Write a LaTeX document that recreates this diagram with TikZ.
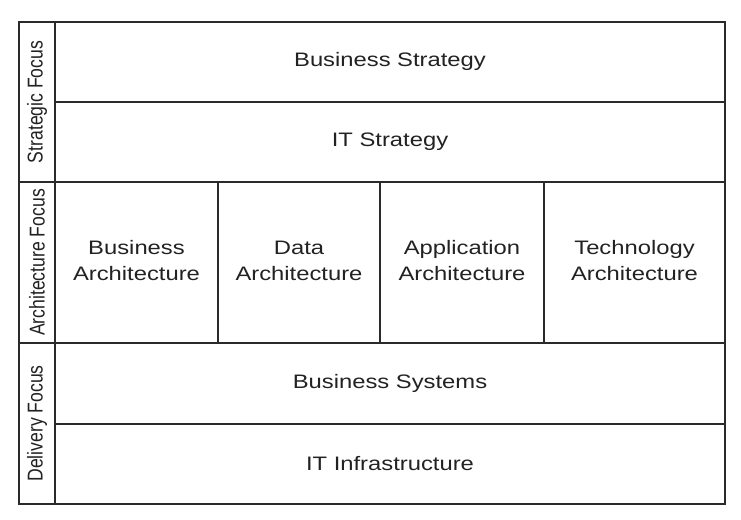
\documentclass[tikz,border=0pt]{standalone}
\usepackage{fontspec}
\setmainfont{Liberation Sans}
\usepackage{graphicx}
\newcommand{\hstr}[1]{\scalebox{1.22}[1]{#1}}
\newcommand{\vstr}[1]{\scalebox{1.22}[1]{\rotatebox{90}{#1}}}
\definecolor{linec}{HTML}{2A2A2A}
\definecolor{textc}{HTML}{222222}
\begin{document}
\begin{tikzpicture}[x=1pt,y=-1pt,
  cellline/.style={draw=linec,line width=1.4pt},
  maintext/.style={font=\fontsize{19.5}{26}\selectfont,text=textc,inner sep=0pt},
  sidetext/.style={font=\fontsize{17.6}{20}\selectfont,text=textc,inner sep=0pt}]
\useasboundingbox (0,0) rectangle (741,519);
\fill[white] (0,0) rectangle (741,519);
% grid
\draw[cellline] (19,22) rectangle (725,504);
\draw[cellline] (55,22) -- (55,504);
\draw[cellline] (55,102) -- (725,102);
\draw[cellline] (19,182) -- (725,182);
\draw[cellline] (19,343) -- (725,343);
\draw[cellline] (55,424) -- (725,424);
\draw[cellline] (218,182) -- (218,343);
\draw[cellline] (380,182) -- (380,343);
\draw[cellline] (544,182) -- (544,343);
% side labels
\node[sidetext] (sf) at (37,102) {\vstr{Strategic Focus}};
\node[sidetext] (af) at (37,262.5) {\vstr{Architecture Focus}};
\node[sidetext] (df) at (37,423.5) {\vstr{Delivery Focus}};
% rows
\node[maintext] (bs) at (390,61) {\hstr{Business Strategy}};
\node[maintext] (its) at (390,142) {\hstr{IT Strategy}};
\node[maintext] (ba) at (136.5,262) {\hstr{\begin{tabular}{@{}c@{}}Business\\Architecture\end{tabular}}};
\node[maintext] (da) at (299,262) {\hstr{\begin{tabular}{@{}c@{}}Data\\Architecture\end{tabular}}};
\node[maintext] (aa) at (462,262) {\hstr{\begin{tabular}{@{}c@{}}Application\\Architecture\end{tabular}}};
\node[maintext] (ta) at (634.5,262) {\hstr{\begin{tabular}{@{}c@{}}Technology\\Architecture\end{tabular}}};
\node[maintext] (bsy) at (390,383) {\hstr{Business Systems}};
\node[maintext] (iti) at (390,464) {\hstr{IT Infrastructure}};
\end{tikzpicture}
\end{document}
